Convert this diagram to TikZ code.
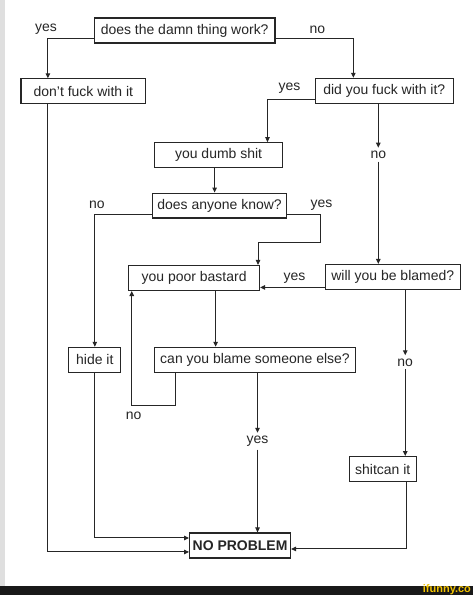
\documentclass[tikz,border=0pt]{standalone}
\usepackage{fontspec}
\setmainfont{Liberation Sans}
\usepackage{xcolor}
\usetikzlibrary{arrows.meta, positioning, calc}

\definecolor{ink}{HTML}{262626}
\definecolor{wmark}{HTML}{F2C200}

\begin{document}
\begin{tikzpicture}[x=1pt, y=-1pt,
    box/.style={draw=ink, line width=1.2pt, text=ink, minimum height=25pt, inner sep=0pt, font=\fontsize{14}{16}\selectfont},
    lbl/.style={text=ink, fill=white, inner sep=3pt, font=\fontsize{14}{16}\selectfont},
    arr/.style={draw=ink, line width=1pt, -{Triangle[length=5pt,width=4.5pt]}}]
% background
\fill[white] (0,0) rectangle (474,596);
\fill[gray!25] (0,0) rectangle (5,587);
\fill[black!90] (0,587) rectangle (474,596);
\node[text=wmark, font=\fontsize{11}{11}\bfseries\selectfont, anchor=east, inner sep=1pt] (brand) at (473,591) {ifunny.co};

% Boxes
\node[box, minimum width=181pt] (work) at (185,30.5) {does the damn thing work?};
\node[box, minimum width=125pt] (dont) at (83.5,91.5) {don't fuck with it};
\node[box, minimum width=138pt] (did) at (385,91) {did you fuck with it?};
\node[box, minimum width=128pt] (dumb) at (219,155.5) {you dumb shit};
\node[box, minimum width=134pt] (know) at (220,206) {does anyone know?};
\node[box, minimum width=131pt] (poor) at (194.5,278.5) {you poor bastard};
\node[box, minimum width=135pt] (blamed) at (393.5,277.5) {will you be blamed?};
\node[box, minimum width=52pt] (hide) at (95,360.5) {hide it};
\node[box, minimum width=201pt] (else) at (255.5,360.5) {can you blame someone else?};
\node[box, minimum width=67pt] (shitcan) at (383.5,470) {shitcan it};
\node[box, minimum width=101pt, font=\fontsize{14}{16}\bfseries\selectfont] (ok) at (240.5,546.5) {NO PROBLEM};

% Labels
\node[lbl] (yes1) at (46,29.5) {yes};
\node[lbl] (no1) at (318,29.5) {no};
\node[lbl] (yes2) at (290,88.5) {yes};
\node[lbl] (no2) at (379,155) {no};
\node[lbl] (no3) at (97,205.5) {no};
\node[lbl] (yes3) at (322,205.5) {yes};
\node[lbl] (yes4) at (295,278.5) {yes};
\node[lbl] (no4) at (406,363) {no};
\node[lbl] (no5) at (134,417) {no};
\node[lbl] (yes5) at (258,442) {yes};

% Bends
\coordinate (kbend) at (321,243);
\coordinate (lbend) at (132,406);

% Connectors
\draw[arr] ([yshift=-8.5pt]work.west) -| ([xshift=-35.5pt]dont.north);
\draw[arr] ([yshift=-8pt]work.east) -| ([xshift=-31pt]did.north);
\draw[arr] ([yshift=-9pt]did.west) -| ([xshift=49pt]dumb.north);
\draw[arr] (did.south -| no2) -- (no2.north);
\draw[arr] (no2.south) -- (no2 |- blamed.north);
\draw[arr] ([xshift=-4pt]dumb.south) -- ([xshift=-4pt]dumb.south |- know.north);
\draw[arr] ([yshift=-8.5pt]know.west) -| (hide.north);
\draw[arr] ([yshift=-8.5pt]know.east) -| (kbend) -| ([xshift=64pt]poor.north);
\draw[arr] ([yshift=-10.5pt]blamed.west) -- ([yshift=-10.5pt]blamed.west -| poor.east);
\draw[arr] ([xshift=21.5pt]poor.south) -- ([xshift=21.5pt]poor.south |- else.north);
\draw[arr] ([xshift=-79.5pt]else.south) |- (lbend) -- ([xshift=-62.5pt]poor.south);
\draw[arr] (blamed.south -| no4) -- (no4.north);
\draw[arr] (no4.south) -- (no4 |- shitcan.north);
\draw[arr] (else.south -| yes5) -- (yes5.north);
\draw[arr] (yes5.south) -- (yes5 |- ok.north);
\draw[arr] ([xshift=23.5pt]shitcan.south) |- ([yshift=-3.5pt]ok.east);
\draw[arr] (hide.south) |- ([yshift=7.5pt]ok.west);
\draw[arr] ([xshift=-35.5pt]dont.south) |- ([yshift=-6.5pt]ok.west);
\end{tikzpicture}
\end{document}
